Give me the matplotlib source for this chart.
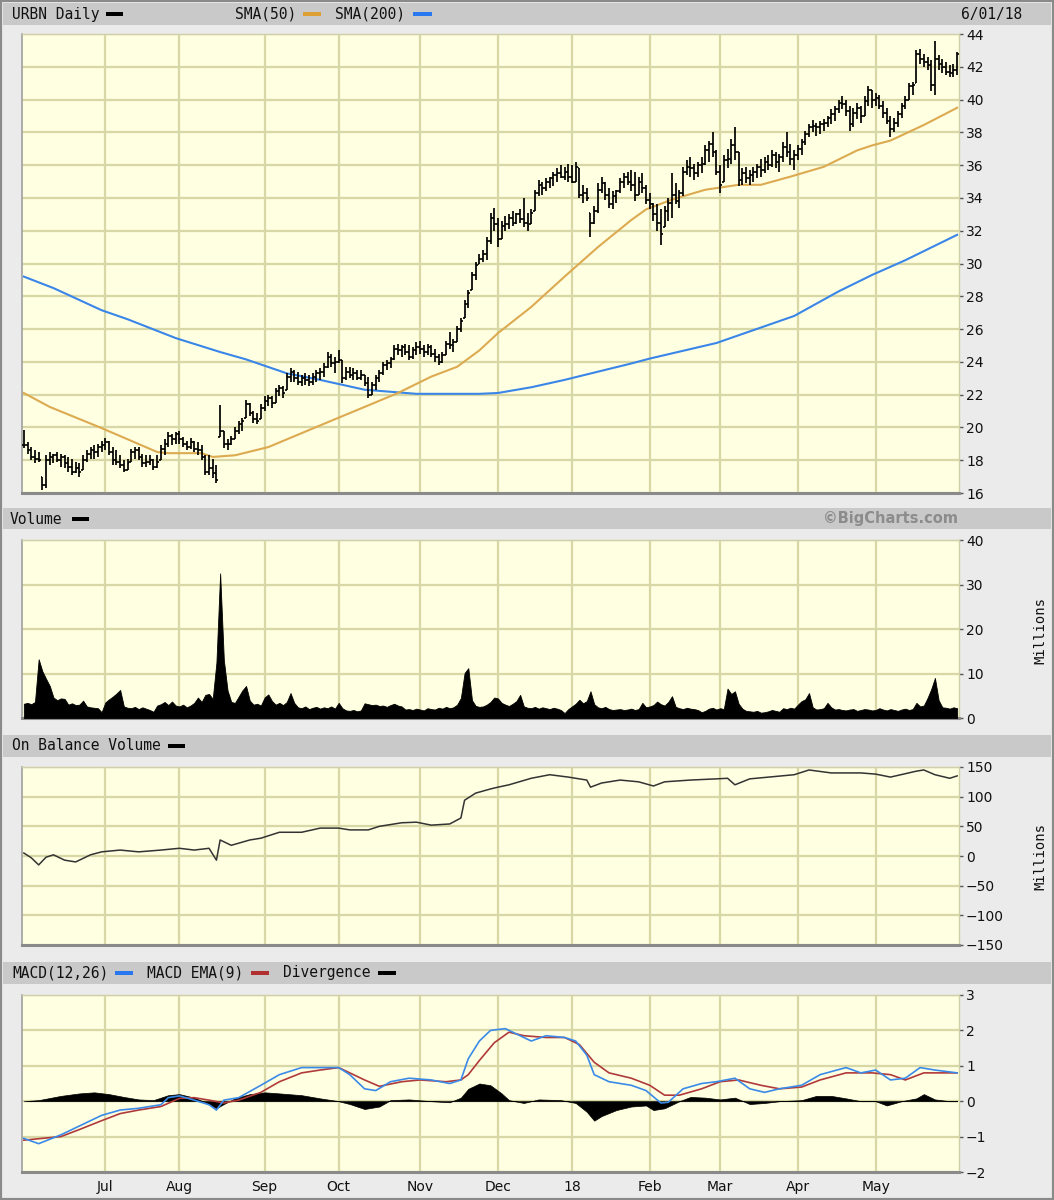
import numpy as np
import pandas as pd
import matplotlib
matplotlib.use("Agg")
import matplotlib.pyplot as plt
from matplotlib.patches import Rectangle

# ---------------- data ----------------
start_date = "2017-06-01"
end_date = "2018-06-01"
holidays = ["2017-07-04", "2017-09-04", "2017-11-23", "2017-12-25", "2018-01-01",
            "2018-01-15", "2018-02-19", "2018-03-30", "2018-05-28"]

high = [
    # Jun 2017
    19.85,19.1,18.8,18.6,18.5,17.0,18.3,18.5,18.4,18.5,18.4,18.3,18.2,18.1,17.9,17.8,18.3,18.6,18.8,18.9,19.0,19.2,
    # Jul
    19.35,19.2,18.8,18.6,18.3,18.0,18.1,18.7,18.8,18.8,18.4,18.3,18.3,18.1,18.3,18.9,19.3,19.7,19.6,19.7,
    # Aug
    19.8,19.4,19.2,19.35,19.2,19.1,18.9,18.3,18.3,18.1,17.7,21.35,19.8,19.3,19.5,20.0,20.4,20.6,21.7,21.5,21.0,20.9,21.4,
    # Sep
    21.9,22.0,21.9,22.4,22.6,22.5,23.3,23.6,23.5,23.4,23.2,23.3,23.2,23.3,23.5,23.6,23.9,24.6,24.5,24.3,
    # Oct
    24.7,24.1,23.7,23.7,23.6,23.5,23.5,23.2,23.1,22.8,23.2,23.5,24.0,24.1,24.3,25.0,25.1,25.0,25.1,25.0,24.9,25.2,
    # Nov
    25.3,25.0,25.1,25.0,24.8,24.5,24.6,25.3,25.8,25.4,26.2,26.7,27.8,28.4,29.5,30.1,30.6,30.8,31.6,33.1,33.4,
    # Dec
    32.8,32.6,32.9,33.0,33.2,33.1,33.3,34.0,33.1,33.3,34.5,35.1,35.0,35.2,35.3,35.6,35.8,36.0,35.9,36.1,
    # Jan 2018
    36.0,36.2,35.8,34.8,34.6,33.1,33.5,34.9,35.3,35.0,34.6,34.4,34.5,35.2,35.5,35.6,35.7,35.6,35.3,35.5,34.8,
    # Feb
    34.3,33.7,33.6,33.3,33.5,34.0,35.5,34.9,34.5,35.9,36.3,36.5,36.1,36.2,36.5,37.2,37.5,38.0,36.9,
    # Mar
    36.0,36.6,37.0,37.6,38.3,36.8,35.8,35.9,35.7,35.9,36.1,36.4,36.5,36.6,36.9,36.8,36.7,37.4,38.0,37.3,36.9,
    # Apr
    37.2,37.6,38.1,38.5,38.75,38.6,38.7,38.8,39.0,39.4,39.6,40.0,40.2,40.0,39.6,39.5,39.8,39.6,40.2,40.8,40.6,
    # May
    40.4,40.3,39.9,39.5,39.0,38.9,39.3,39.8,40.2,41.0,41.1,43.0,43.1,42.8,42.6,42.4,43.6,42.7,42.5,42.3,42.1,42.2,
    # Jun 1
    42.9,
]
low = [
    18.75,18.4,18.0,17.8,17.9,16.2,16.3,17.7,17.8,17.9,17.6,17.5,17.3,17.1,17.2,17.0,17.4,17.9,18.1,18.1,18.2,18.5,
    18.6,18.3,17.7,17.7,17.5,17.3,17.4,17.9,18.1,18.0,17.6,17.6,17.7,17.4,17.5,18.0,18.3,18.8,18.9,19.0,
    19.0,18.8,18.6,18.7,18.5,18.3,18.0,17.1,17.1,16.9,16.6,19.4,18.75,18.6,18.9,19.3,19.6,19.8,20.6,20.7,20.3,20.2,20.5,
    21.0,21.3,21.2,21.5,21.9,21.8,22.3,22.8,22.8,22.6,22.5,22.6,22.5,22.6,22.8,22.9,23.1,23.6,23.7,23.3,
    23.9,22.7,22.9,23.0,22.9,22.9,22.9,22.5,21.8,22.0,22.3,22.8,23.2,23.5,23.6,24.1,24.4,24.3,24.4,24.1,24.2,24.4,
    24.5,24.3,24.4,24.3,24.0,23.8,23.9,24.4,24.8,24.6,25.2,25.8,26.7,27.3,28.4,29.0,30.0,30.1,30.2,31.2,32.0,
    31.0,31.5,32.0,32.1,32.3,32.4,32.5,32.2,32.0,32.4,33.2,34.1,34.2,34.4,34.6,34.7,35.0,35.2,35.1,35.0,
    34.9,35.0,34.0,33.7,33.8,31.6,32.4,33.1,34.3,33.9,33.4,33.3,33.7,34.3,34.6,34.8,34.4,33.8,34.2,34.3,33.6,
    33.3,32.6,32.0,31.1,32.2,32.6,32.8,33.6,33.4,34.1,35.4,35.3,35.1,35.3,35.5,36.0,36.2,36.5,35.4,
    34.3,35.0,35.8,36.1,36.3,34.7,34.8,34.9,34.8,35.0,35.2,35.3,35.5,35.7,35.9,35.8,35.6,36.2,36.5,36.0,35.7,
    36.3,36.6,37.2,37.7,38.0,37.8,37.9,38.1,38.3,38.5,38.7,39.2,39.4,39.0,38.1,38.3,38.8,38.6,39.0,39.6,39.5,
    39.6,39.4,38.9,38.5,37.7,38.0,38.3,38.9,39.4,40.0,40.3,41.0,42.2,42.0,41.8,40.5,40.3,41.8,41.6,41.5,41.4,41.4,
    41.5,
]
close = [
    18.9,18.6,18.2,18.1,18.0,16.5,18.0,18.2,18.3,18.0,18.2,17.8,17.6,17.3,17.5,17.3,18.0,18.4,18.6,18.5,18.8,18.9,
    19.1,18.5,18.0,17.9,17.7,17.4,17.8,18.5,18.6,18.2,17.8,17.9,18.0,17.6,17.9,18.7,19.0,19.5,19.3,19.6,
    19.3,19.0,18.8,19.1,18.7,18.6,18.2,17.3,17.5,17.2,16.8,19.8,19.0,19.0,19.3,19.8,20.2,20.4,21.4,20.9,20.5,20.4,21.2,
    21.6,21.8,21.5,22.2,22.4,22.1,23.1,23.4,23.0,22.8,23.0,22.9,22.8,23.1,23.3,23.4,23.7,24.3,23.9,24.0,
    24.1,23.0,23.4,23.2,23.3,23.0,23.2,22.7,22.0,22.6,23.0,23.3,23.8,23.9,24.2,24.8,24.7,24.9,24.6,24.3,24.7,24.9,
    24.8,24.6,24.9,24.5,24.3,24.0,24.4,25.1,25.0,25.2,26.0,26.5,27.5,28.2,29.3,29.9,30.3,30.6,31.4,32.8,32.4,
    31.5,32.3,32.4,32.8,32.5,33.0,32.7,32.5,32.3,33.1,34.3,34.8,34.6,35.0,35.2,35.4,35.5,35.3,35.6,35.3,
    35.0,35.9,34.2,34.3,34.0,32.5,33.2,34.5,34.9,34.2,33.6,34.1,34.4,35.0,35.3,35.0,34.8,34.2,35.0,34.6,33.9,
    33.6,33.0,32.5,31.8,33.2,33.7,34.2,33.8,34.3,35.6,35.9,35.8,35.5,36.0,36.1,36.9,37.3,36.8,35.6,
    34.8,36.3,36.4,37.2,36.8,35.1,35.5,35.2,35.4,35.6,35.9,35.7,36.2,36.0,36.6,36.2,36.5,37.1,36.8,36.4,36.6,
    37.0,37.4,37.9,38.3,38.4,38.3,38.5,38.6,38.9,39.1,39.4,39.8,39.7,39.3,38.5,39.2,39.5,39.0,39.9,40.6,40.0,
    40.1,39.6,39.2,38.7,38.2,38.6,39.1,39.6,40.0,40.8,40.9,42.8,42.5,42.3,42.1,40.9,42.5,42.2,42.0,41.7,41.6,41.8,
    42.8,
]
volume_m = [
    3.2,3.4,3.1,3.6,13.2,10.5,8.8,7.2,4.6,4.0,4.4,4.3,3.0,3.3,2.9,3.0,3.9,2.6,2.4,2.3,2.2,1.3,
    3.5,4.2,4.8,5.5,6.3,2.6,2.3,2.2,2.5,2.0,2.4,2.1,1.8,1.4,2.8,3.1,3.6,2.9,3.7,2.8,
    2.6,3.0,2.4,2.8,3.4,4.6,3.6,5.2,5.4,4.3,12.5,32.5,13.0,6.2,3.6,3.4,4.8,6.2,7.2,3.9,3.0,3.2,2.8,
    4.6,5.3,3.8,3.0,3.4,2.9,3.6,5.6,3.4,2.4,2.2,2.6,2.0,2.3,2.5,2.1,2.4,2.2,2.6,2.1,
    3.4,2.2,1.7,1.6,1.8,1.5,1.7,3.3,3.1,2.9,3.0,2.7,2.8,2.5,2.9,3.2,2.8,2.6,1.9,2.0,1.8,2.1,
    1.9,1.7,2.2,2.0,1.9,2.3,2.1,2.5,2.2,2.4,3.0,4.5,10.1,11.2,4.0,2.7,2.5,2.6,3.0,3.6,4.6,
    4.4,3.4,3.0,2.7,3.2,3.8,5.2,2.6,2.3,2.2,2.5,2.1,2.4,2.2,2.0,2.3,2.1,1.8,1.1,2.0,
    2.6,3.2,4.1,3.3,3.8,6.0,3.1,2.4,2.2,2.5,2.0,1.8,1.9,2.0,1.8,1.9,2.1,1.8,2.0,3.4,2.4,
    2.6,2.9,3.7,3.1,2.8,3.6,4.9,2.5,2.2,2.0,2.3,2.1,2.0,1.8,1.3,1.6,2.1,2.3,1.9,
    2.2,2.0,6.6,5.4,6.0,3.2,2.1,1.6,1.5,1.4,1.6,1.2,1.3,1.5,1.8,1.6,1.4,2.2,2.0,2.3,2.1,
    3.0,3.8,4.2,5.6,2.4,1.9,2.0,2.2,3.4,2.4,1.9,2.0,1.8,1.7,1.9,2.0,1.6,1.8,2.0,1.9,1.7,
    1.8,2.2,1.9,1.7,2.0,1.8,1.6,1.9,2.1,1.8,2.0,3.4,2.6,2.8,4.5,6.5,9.0,4.0,2.4,2.3,2.1,2.4,
    2.2,
]

# moving averages (trading-day index, value)
sma50_idx = [0, 7, 21, 36, 39, 48, 51, 57, 66, 75, 84, 92, 101, 110, 117, 123, 128, 137, 146,
             155, 164, 168, 175, 184, 193, 199, 207, 216, 225, 229, 234, 243, 252]
sma50_val = [22.1, 21.25, 19.96, 18.5, 18.43, 18.43, 18.2, 18.3, 18.8, 19.65, 20.5, 21.25, 22.1,
             23.1, 23.7, 24.7, 25.75, 27.35, 29.2, 31.0, 32.65, 33.3, 33.9, 34.5, 34.8, 34.8, 35.3,
             35.9, 36.9, 37.2, 37.5, 38.45, 39.5]
sma200_idx = [0, 8, 21, 28, 41, 53, 60, 71, 80, 92, 106, 123, 128, 137, 146, 155, 164, 169,
              187, 208, 220, 229, 238, 252]
sma200_val = [29.2, 28.5, 27.15, 26.6, 25.45, 24.6, 24.15, 23.3, 22.9, 22.3, 22.05, 22.05, 22.1,
              22.45, 22.9, 23.4, 23.9, 24.2, 25.15, 26.8, 28.3, 29.3, 30.2, 31.75]

# on balance volume (millions)
obv_idx = [0, 2, 4, 6, 8, 11, 14, 18, 21, 26, 31, 37, 42, 46, 50, 52, 53, 56, 61, 64, 69, 75, 80,
           85, 88, 93, 96, 102, 106, 110, 115, 118, 119, 122, 126, 128, 131, 137, 142, 147, 152,
           153, 156, 161, 166, 170, 173, 180, 187, 190, 192, 196, 208, 212, 218, 226, 230, 234,
           241, 243, 246, 250, 252]
obv_val = [5, -3, -15, -2, 2, -7, -10, 2, 7, 10, 7, 10, 13, 10, 13, -7, 27, 18, 27, 30, 40, 40, 47,
           47, 44, 44, 50, 56, 57, 52, 54, 64, 94, 106, 113, 116, 120, 131, 137, 133, 128,
           116, 123, 128, 125, 118, 125, 128, 130, 131, 120, 130, 137, 145, 140, 140, 138, 133,
           143, 145, 137, 131, 135]

# MACD(12,26)
macd_idx = [0, 4, 10, 15, 21, 26, 31, 37, 39, 42, 46, 50, 52, 54, 58, 64, 69, 75, 80, 85, 88, 92,
            95, 99, 104, 110, 115, 118, 120, 123, 126, 130, 133, 137, 141, 146, 149, 152, 154,
            158, 164, 168, 172, 174, 178, 183, 187, 192, 196, 200, 204, 210, 215, 222, 226, 230,
            234, 238, 242, 246, 252]
macd_val = [-1.05, -1.2, -0.95, -0.7, -0.4, -0.25, -0.2, -0.1, 0.1, 0.15, 0.03, -0.1, -0.25, 0.03,
            0.1, 0.45, 0.75, 0.95, 0.95, 0.95, 0.75, 0.35, 0.3, 0.55, 0.65, 0.6, 0.5, 0.6, 1.2,
            1.7, 2.0, 2.05, 1.9, 1.7, 1.85, 1.8, 1.7, 1.3, 0.75, 0.55, 0.45, 0.3, -0.05, -0.03,
            0.35, 0.5, 0.55, 0.65, 0.35, 0.25, 0.35, 0.45, 0.75, 0.95, 0.8, 0.88, 0.6, 0.65, 0.95,
            0.88, 0.8]
ema_idx = [0, 10, 15, 21, 26, 31, 37, 42, 46, 50, 54, 58, 64, 69, 75, 80, 85, 88, 92, 96, 102,
           107, 114, 118, 120, 123, 127, 131, 135, 141, 146, 150, 154, 158, 164, 169, 173, 177,
           183, 188, 193, 199, 204, 210, 215, 222, 229, 234, 238, 243, 252]
ema_val = [-1.1, -1.0, -0.8, -0.55, -0.35, -0.25, -0.15, 0.08, 0.1, 0.03, -0.05, 0.03, 0.25, 0.55,
           0.8, 0.88, 0.95, 0.8, 0.6, 0.42, 0.55, 0.6, 0.55, 0.6, 0.75, 1.15, 1.65, 1.95, 1.85,
           1.8, 1.8, 1.6, 1.1, 0.8, 0.65, 0.45, 0.17, 0.17, 0.35, 0.55, 0.6, 0.45, 0.35, 0.4, 0.6,
           0.8, 0.8, 0.75, 0.6, 0.8, 0.8]
div_idx = [0, 4, 10, 15, 19, 23, 27, 31, 35, 39, 42, 46, 49, 52, 54, 57, 61, 65, 69, 75, 80, 85,
           88, 92, 96, 99, 104, 110, 115, 118, 120, 123, 126, 129, 131, 135, 139, 145, 149, 152,
           154, 156, 160, 164, 168, 170, 173, 177, 180, 184, 188, 192, 196, 200, 204, 210, 214,
           218, 222, 226, 230, 233, 237, 241, 243, 246, 250, 252]
div_val = [0, 0.03, 0.15, 0.22, 0.25, 0.2, 0.12, 0.05, 0.03, 0.17, 0.2, 0.1, -0.03, -0.2, -0.08,
           0.08, 0.2, 0.25, 0.22, 0.17, 0.08, 0, -0.08, -0.22, -0.15, 0.03, 0.05, 0, -0.03, 0.1,
           0.35, 0.5, 0.45, 0.22, 0.03, -0.05, 0.05, 0.03, -0.05, -0.3, -0.55, -0.42, -0.25,
           -0.15, -0.12, -0.25, -0.2, 0, 0.12, 0.1, 0.05, 0.1, -0.08, -0.05, 0, 0.03, 0.15, 0.15,
           0.08, 0, 0, -0.12, 0, 0.08, 0.2, 0.05, 0, 0]

month_labels = ["Jul", "Aug", "Sep", "Oct", "Nov", "Dec", "18", "Feb", "Mar", "Apr", "May"]
price_ticks = list(range(16, 46, 2))
vol_ticks = [0, 10, 20, 30, 40]
obv_ticks = [-150, -100, -50, 0, 50, 100, 150]
macd_ticks = [-2, -1, 0, 1, 2, 3]

# ---------------- build ----------------
dates = pd.bdate_range(start_date, end_date)
dates = dates[~dates.isin(pd.to_datetime(holidays))]
n = len(dates)
assert n == len(high) == len(low) == len(close) == len(volume_m), (n, len(high), len(low), len(close), len(volume_m))
idx = np.arange(n)
hi = np.array(high); lo = np.array(low); cl = np.array(close)
op = np.concatenate([[cl[0]], cl[:-1]])
op = np.clip(op, lo, hi)

per = pd.Series(dates.to_period("M"))
first_of_month = [i for i in range(1, n) if per[i] != per[i - 1]][:len(month_labels)]

W, H = 1054, 1200
fig = plt.figure(figsize=(W / 100, H / 100), dpi=100)
fig.patch.set_facecolor("#ebebeb")

def frect(l, t, r, b, **kw):
    fig.patches.append(Rectangle((l / W, 1 - b / H), (r - l) / W, (b - t) / H,
                                 transform=fig.transFigure, **kw))

def ftext(x, y, s, **kw):
    fig.text(x / W, 1 - y / H, s, **kw)

def make_ax(l, t, r, b):
    ax = fig.add_axes([l / W, 1 - b / H, (r - l) / W, (b - t) / H])
    ax.set_facecolor("#ffffe2")
    ax.set_xlim(-0.5, n - 0.5)
    for x in first_of_month:
        ax.axvline(x, color="#d8d8a6", lw=1.6, zorder=0)
    ax.yaxis.tick_right()
    ax.tick_params(axis="y", which="both", length=3, width=1, color="#555555", pad=2,
                   labelsize=10, labelcolor="#111111")
    ax.tick_params(axis="x", length=0, labelbottom=False)
    for s in ("top", "right"):
        ax.spines[s].set_color("#d0d0a8")
        ax.spines[s].set_linewidth(1)
    ax.spines["left"].set_color("#a0a0a0")
    ax.spines["left"].set_linewidth(1.2)
    ax.spines["bottom"].set_color("#8a8a8a")
    ax.spines["bottom"].set_linewidth(2.2)
    return ax

def hgrid(ax, vals):
    for v in vals:
        ax.axhline(v, color="#d8d8a6", lw=1.6, zorder=0)

mono = "DejaVu Sans Mono"

# outer frame and header bars
frect(0, 0, W, H, facecolor="none", edgecolor="#8a8a8a", lw=3)
for (t, b) in [(3, 25), (508, 529), (735, 757), (962, 984)]:
    frect(3, t, 1051, b, facecolor="#c9c9c9", edgecolor="none")

# headers
ftext(12, 14, "URBN Daily", fontsize=10.5, family=mono, va="center", color="#111111")
frect(106, 11.5, 123, 15.5, facecolor="black")
ftext(235, 14, "SMA(50)", fontsize=10.5, family=mono, va="center", color="#111111")
frect(303, 11.5, 321, 15.5, facecolor="#dca034")
ftext(335, 14, "SMA(200)", fontsize=10.5, family=mono, va="center", color="#111111")
frect(413, 11.5, 432, 15.5, facecolor="#2a78f0")
ftext(1022, 14, "6/01/18", fontsize=10.5, family=mono, va="center", ha="right", color="#111111")

ftext(10, 519, "Volume", fontsize=10.5, family=mono, va="center", color="#111111")
frect(72, 516.5, 89, 520.5, facecolor="black")
ftext(958, 518, "\u00a9BigCharts.com", fontsize=10.5, fontweight="bold", va="center", ha="right",
      color="#8c8c8c")

ftext(12, 746, "On Balance Volume", fontsize=10.5, family=mono, va="center", color="#111111")
frect(168, 744, 185, 748, facecolor="black")

ftext(12, 973, "MACD(12,26)", fontsize=10.5, family=mono, va="center", color="#111111")
frect(115, 971, 133, 975, facecolor="#2a78f0")
ftext(147, 973, "MACD EMA(9)", fontsize=10.5, family=mono, va="center", color="#111111")
frect(251, 971, 269, 975, facecolor="#b03030")
ftext(283, 973, "Divergence", fontsize=10.5, family=mono, va="center", color="#111111")
frect(378, 971, 396, 975, facecolor="black")

# ---- price panel ----
ax1 = make_ax(22, 34, 959, 493)
ax1.set_ylim(16, 44)
hgrid(ax1, price_ticks)
ax1.set_yticks(price_ticks)
ax1.plot(sma200_idx, sma200_val, color="#3a86e8", lw=1.5, zorder=2)
ax1.plot(sma50_idx, sma50_val, color="#dcaa50", lw=1.5, zorder=2)
ax1.vlines(idx, lo, hi, color="black", lw=1.25, zorder=3)
ax1.hlines(op, idx - 0.5, idx, color="black", lw=1.2, zorder=3)
ax1.hlines(cl, idx, idx + 0.5, color="black", lw=1.2, zorder=3)

# ---- volume panel ----
ax2 = make_ax(22, 540, 959, 718)
ax2.set_ylim(0, 40)
hgrid(ax2, vol_ticks)
ax2.set_yticks(vol_ticks)
ax2.fill_between(idx, 0, volume_m, color="black", lw=0.6, zorder=3)
ftext(1040, 630, "Millions", fontsize=10, rotation=90, va="center", ha="center",
      family=mono, color="#111111")

# ---- OBV panel ----
ax3 = make_ax(22, 767, 959, 945)
ax3.set_ylim(-150, 150)
hgrid(ax3, obv_ticks)
ax3.set_yticks(obv_ticks)
ax3.plot(obv_idx, obv_val, color="#333333", lw=1.1, zorder=3)
ftext(1040, 857, "Millions", fontsize=10, rotation=90, va="center", ha="center",
      family=mono, color="#111111")

# ---- MACD panel ----
ax4 = make_ax(22, 995, 959, 1172)
ax4.set_ylim(-2, 3)
hgrid(ax4, macd_ticks)
ax4.set_yticks(macd_ticks)
ax4.fill_between(div_idx, 0, div_val, color="black", lw=0.5, zorder=2)
ax4.plot(ema_idx, ema_val, color="#b03a3a", lw=1.2, zorder=3)
ax4.plot(macd_idx, macd_val, color="#3a8ae8", lw=1.2, zorder=4)
ax4.set_xticks(first_of_month)
ax4.set_xticklabels(month_labels)
ax4.tick_params(axis="x", length=0, labelbottom=True, labelsize=10, pad=6, labelcolor="#111111")

fig.savefig("out.png", dpi=100, facecolor=fig.get_facecolor())
